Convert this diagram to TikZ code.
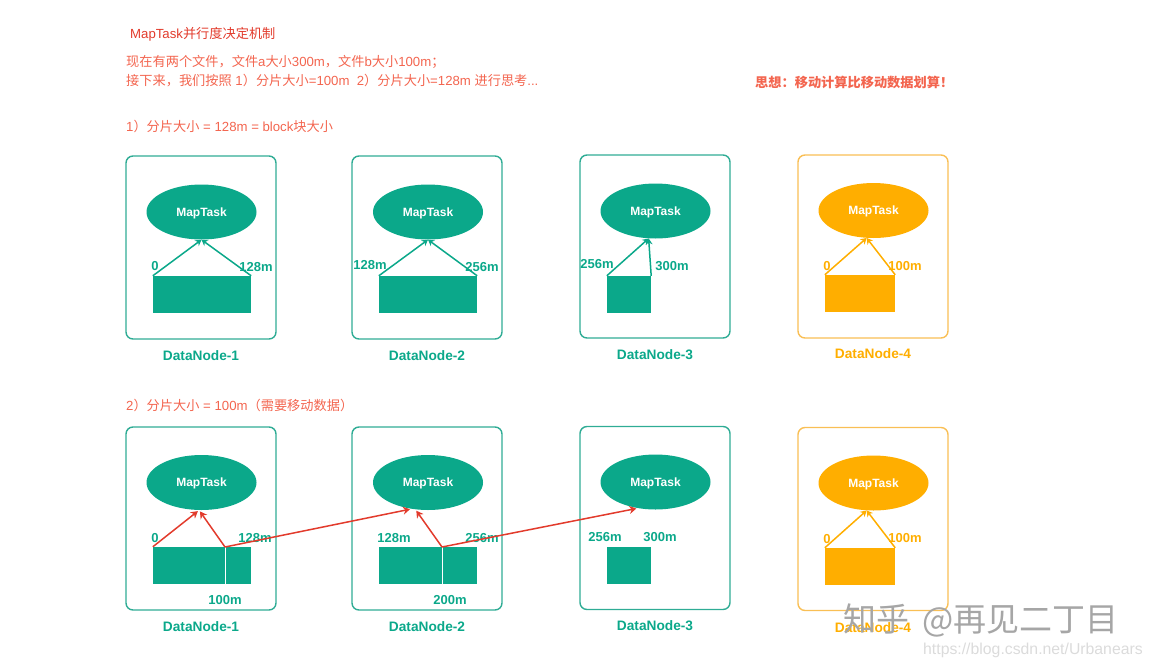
\documentclass[tikz,border=0pt]{standalone}
\usepackage{fontspec}
\setmainfont{Liberation Sans}
\newfontfamily\cjk{Noto Sans CJK SC}
\newcommand{\zh}[1]{{\cjk #1}}
\usetikzlibrary{shapes.geometric}
\usetikzlibrary{arrows.meta}
\definecolor{dnteal}{HTML}{0BA88A}
\definecolor{dnline}{HTML}{2FAC95}
\definecolor{dnorange}{HTML}{FFAE00}
\definecolor{dnedge}{HTML}{F9BF55}
\definecolor{dnred}{HTML}{E23B2C}
\definecolor{dnnote}{HTML}{F3654F}

\begin{document}
\begin{tikzpicture}[x=1pt,y=1pt,
  dnbox/.style={draw=dnline,line width=1.4pt,rounded corners=7pt,minimum width=150pt,minimum height=183pt,inner sep=0pt},
  dnboxo/.style={dnbox,draw=dnedge},
  maptask/.style={ellipse,fill=dnteal,text=white,minimum width=110pt,minimum height=55pt,inner sep=0pt,text height=11pt,text depth=2.5pt,font=\fontsize{12}{14}\selectfont\bfseries},
  maptasko/.style={maptask,fill=dnorange},
  blk/.style={fill=dnteal,minimum height=37pt,inner sep=0pt},
  blko/.style={blk,fill=dnorange},
  lab/.style={text=dnteal,font=\fontsize{13}{15}\selectfont\bfseries},
  labo/.style={lab,text=dnorange},
  dnname/.style={lab,font=\fontsize{13.7}{16}\selectfont\bfseries},
  dnnameo/.style={dnname,text=dnorange},
  up/.style={-{Stealth[length=6pt,width=7pt]},draw=dnteal,line width=1.5pt},
  upo/.style={up,draw=dnorange},
  upr/.style={-{Stealth[length=7pt,width=8pt]},draw=dnred,line width=1.5pt,shorten >=1.5pt},
  note/.style={anchor=west,inner sep=0pt,text=dnnote,font=\fontsize{13.2}{15}\selectfont},
  markzh/.style={anchor=west,inner sep=0pt,text=black!35,font=\fontsize{33}{37}\selectfont\cjk},
  markurl/.style={anchor=west,inner sep=0pt,text=black!14,font=\fontsize{15.8}{18}\selectfont}]
  \useasboundingbox (0,0) rectangle (1152,-667);

  %notes
  \node[note,text=dnred] (title) at (130,-34) {MapTask\zh{并行度决定机制}};
  \node[note] (line1) at (126,-62) {\zh{现在有两个文件，文件}a\zh{大小}300m\zh{，文件}b\zh{大小}100m\zh{；}};
  \node[note] (line2) at (126,-81) {\zh{接下来，我们按照} 1\zh{）分片大小}=100m\ \ 2\zh{）分片大小}=128m \zh{进行思考}...};
  \node[note,font=\fontsize{13.2}{15}\selectfont\cjk\bfseries] (idea) at (755,-82) {思想：移动计算比移动数据划算！};
  \node[note] (case1) at (126,-126) {1\zh{）分片大小} = 128m = block\zh{块大小}};
  \node[note] (case2) at (126,-405) {2\zh{）分片大小} = 100m\zh{（需要移动数据）}};

  %first row, node 1
  \node[dnbox] (box11) at (201,-247.5) {};
  \node[maptask] (map11) at (201.5,-212) {MapTask};
  \node[blk,minimum width=98pt] (blk11) at (202,-294.5) {};
  \draw[up] (blk11.north west) -- (map11.south);
  \draw[up] (blk11.north east) -- (map11.south);
  \node[lab] (a11) at (155,-266) {0};
  \node[lab] (b11) at (256,-267) {128m};
  \node[dnname] (dn11) at (201,-356) {DataNode-1};

  %first row, node 2
  \node[dnbox] (box12) at (427,-247.5) {};
  \node[maptask] (map12) at (428,-212) {MapTask};
  \node[blk,minimum width=98pt] (blk12) at (428,-294.5) {};
  \draw[up] (blk12.north west) -- (map12.south);
  \draw[up] (blk12.north east) -- (map12.south);
  \node[lab] (a12) at (370,-265) {128m};
  \node[lab] (b12) at (482,-267) {256m};
  \node[dnname] (dn12) at (427,-356) {DataNode-2};

  %first row, node 3
  \node[dnbox] (box13) at (655,-246.5) {};
  \node[maptask] (map13) at (655.5,-211) {MapTask};
  \node[blk,minimum width=44pt] (blk13) at (629,-294.5) {};
  \draw[up] (blk13.north west) -- (map13.256);
  \draw[up] (blk13.north east) -- (map13.256);
  \node[lab] (a13) at (597,-264) {256m};
  \node[lab] (b13) at (672,-266) {300m};
  \node[dnname] (dn13) at (655,-355) {DataNode-3};

  %first row, node 4
  \node[dnboxo] (box14) at (873,-246.5) {};
  \node[maptasko] (map14) at (873.5,-210.5) {MapTask};
  \node[blko,minimum width=70pt] (blk14) at (860,-293.5) {};
  \draw[upo] (blk14.north west) -- (map14.256);
  \draw[upo] (blk14.north east) -- (map14.256);
  \node[labo] (a14) at (827,-266) {0};
  \node[labo] (b14) at (905,-266) {100m};
  \node[dnnameo] (dn14) at (873,-354) {DataNode-4};

  %second row, node 1
  \node[dnbox] (box21) at (201,-518.5) {};
  \node[maptask] (map21) at (201.5,-482.5) {MapTask};
  \node[blk,minimum width=98pt] (blk21) at (202,-565.5) {};
  \coordinate (cut21) at (225,-547);
  \draw[white,line width=1pt] (cut21) -- (cut21 |- blk21.south);
  \node[lab] (a21) at (155,-538) {0};
  \node[lab] (b21) at (255,-538) {128m};
  \node[lab] (c21) at (225,-600) {100m};
  \node[dnname] (dn21) at (201,-627) {DataNode-1};

  %second row, node 2
  \node[dnbox] (box22) at (427,-518.5) {};
  \node[maptask] (map22) at (428,-482.5) {MapTask};
  \node[blk,minimum width=98pt] (blk22) at (428,-565.5) {};
  \coordinate (cut22) at (442,-547);
  \draw[white,line width=1pt] (cut22) -- (cut22 |- blk22.south);
  \node[lab] (a22) at (394,-538) {128m};
  \node[lab] (b22) at (482,-538) {256m};
  \node[lab] (c22) at (450,-600) {200m};
  \node[dnname] (dn22) at (427,-627) {DataNode-2};

  %second row, node 3
  \node[dnbox] (box23) at (655,-518) {};
  \node[maptask] (map23) at (655.5,-482) {MapTask};
  \node[blk,minimum width=44pt] (blk23) at (629,-565.5) {};
  \node[lab] (a23) at (605,-537) {256m};
  \node[lab] (b23) at (660,-537) {300m};
  \node[dnname] (dn23) at (655,-626) {DataNode-3};

  %second row, node 4
  \node[dnboxo] (box24) at (873,-519) {};
  \node[maptasko] (map24) at (873.5,-483) {MapTask};
  \node[blko,minimum width=70pt] (blk24) at (860,-566.5) {};
  \draw[upo] (blk24.north west) -- (map24.256);
  \draw[upo] (blk24.north east) -- (map24.256);
  \node[labo] (a24) at (827,-539) {0};
  \node[labo] (b24) at (905,-538) {100m};
  \node[dnnameo] (dn24) at (873,-628) {DataNode-4};

  %moved data
  \draw[upr] (blk21.north west) -- (map21.265);
  \draw[upr] (cut21) -- (map21.265);
  \draw[upr] (cut21) -- (map22.238);
  \draw[upr] (cut22) -- (map22.245);
  \draw[upr] (cut22) -- (map23.236);

  %watermark
  \node[markzh] (zhihu) at (843,-620) {知乎\hspace{0.4em}@再见二丁目};
  \node[markurl] (csdn) at (923,-650) {https://blog.csdn.net/Urbanears};
\end{tikzpicture}
\end{document}
